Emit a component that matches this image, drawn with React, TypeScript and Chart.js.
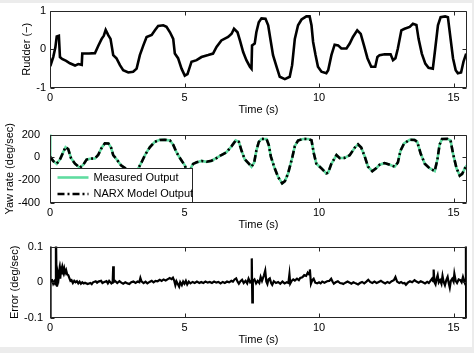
import React, { useEffect, useRef } from "react";
import { Chart, registerables } from "chart.js";

Chart.register(...registerables);

const FONT = "'Liberation Sans', Arial, Helvetica, sans-serif";

// ---------- data ----------
const X_MAX = 15.5;
const xTicks = [0, 5, 10, 15];
const xTitle = "Time (s)";

const rudderTicks = [-1, 0, 1];
const rudderTitle = "Rudder (\u2212)";
const rudderT = [0, 0.05, 0.12, 0.2, 0.25, 0.33, 0.37, 0.45, 0.6, 0.74, 0.93, 1.05, 1.18, 1.2, 1.45, 1.67, 1.8, 1.92, 2.0, 2.07, 2.17, 2.25, 2.35, 2.47, 2.6, 2.72, 2.91, 3.09, 3.22, 3.34, 3.47, 3.59, 3.78, 3.9, 4.02, 4.21, 4.33, 4.46, 4.58, 4.64, 4.76, 4.89, 5.01, 5.11, 5.26, 5.45, 5.63, 5.88, 6.06, 6.19, 6.37, 6.62, 6.75, 6.84, 6.97, 7.06, 7.18, 7.3, 7.43, 7.49, 7.51, 7.61, 7.67, 7.76, 7.86, 8.01, 8.11, 8.21, 8.29, 8.42, 8.54, 8.73, 8.91, 9.0, 9.1, 9.22, 9.35, 9.53, 9.65, 9.72, 9.78, 9.87, 9.96, 10.09, 10.27, 10.34, 10.46, 10.58, 10.71, 10.83, 11.02, 11.14, 11.26, 11.42, 11.55, 11.67, 11.8, 11.94, 12.09, 12.17, 12.25, 12.44, 12.66, 12.75, 12.84, 12.93, 13.06, 13.18, 13.37, 13.49, 13.62, 13.7, 13.82, 13.95, 14.07, 14.23, 14.32, 14.42, 14.52, 14.69, 14.79, 14.89, 14.98, 15.08, 15.16, 15.28, 15.37, 15.47];
const rudderV = [-0.25, -0.35, -0.2, 0.05, 0.33, 0.35, -0.2, -0.25, -0.3, -0.36, -0.42, -0.38, -0.4, -0.11, -0.11, -0.1, 0.1, 0.27, 0.35, 0.5, 0.36, 0.27, -0.15, -0.23, -0.41, -0.54, -0.6, -0.58, -0.5, -0.15, 0.1, 0.32, 0.37, 0.49, 0.6, 0.62, 0.58, 0.44, 0.27, -0.11, -0.23, -0.5, -0.68, -0.64, -0.32, -0.28, -0.2, -0.15, -0.11, 0.06, 0.23, 0.32, 0.4, 0.53, 0.44, 0.23, -0.07, -0.28, -0.45, -0.5, 0.1, 0.15, 0.44, 0.7, 0.8, 0.79, 0.62, 0.19, -0.15, -0.45, -0.71, -0.77, -0.71, -0.41, 0.27, 0.62, 0.77, 0.85, 0.85, 0.62, 0.19, -0.15, -0.45, -0.58, -0.62, -0.54, -0.15, 0.12, 0.1, 0.02, 0.02, 0.15, 0.32, 0.49, 0.4, 0.1, -0.23, -0.45, -0.45, -0.2, -0.15, -0.13, -0.13, -0.28, -0.23, 0.02, 0.49, 0.53, 0.58, 0.66, 0.63, 0.27, -0.11, -0.37, -0.48, -0.5, 0.02, 0.62, 0.83, 0.85, 0.83, 0.27, -0.23, -0.54, -0.62, -0.6, -0.32, -0.11];

const yawTicks = [-400, -200, 0, 200];
const yawTitle = "Yaw rate (deg/sec)";
const yawT = [0, 0.01, 0.12, 0.25, 0.37, 0.49, 0.58, 0.68, 0.78, 0.93, 1.11, 1.24, 1.36, 1.55, 1.67, 1.79, 1.92, 2.04, 2.17, 2.27, 2.35, 2.48, 2.64, 2.79, 2.91, 3.01, 3.13, 3.26, 3.4, 3.53, 3.71, 3.9, 4.08, 4.27, 4.46, 4.58, 4.7, 4.86, 5.01, 5.11, 5.18, 5.26, 5.32, 5.45, 5.63, 5.82, 6.0, 6.19, 6.37, 6.56, 6.75, 6.9, 7.02, 7.12, 7.24, 7.4, 7.49, 7.59, 7.67, 7.76, 7.86, 8.05, 8.13, 8.21, 8.33, 8.48, 8.63, 8.73, 8.85, 9.0, 9.1, 9.22, 9.41, 9.6, 9.72, 9.81, 9.9, 10.09, 10.27, 10.34, 10.46, 10.65, 10.77, 10.95, 11.14, 11.33, 11.45, 11.57, 11.7, 11.82, 11.98, 12.13, 12.25, 12.44, 12.63, 12.81, 12.93, 13.03, 13.16, 13.37, 13.55, 13.65, 13.78, 13.93, 14.11, 14.3, 14.4, 14.48, 14.57, 14.77, 14.89, 14.98, 15.11, 15.23, 15.32, 15.42, 15.5];
const yawMeasured = [260, 5, -31, -56, -18, 46, 90, 72, -5, -56, -90, -64, -18, -10, -10, 20, 85, 123, 123, 85, 20, -18, -69, -95, -120, -141, -133, -107, -44, 20, 90, 136, 154, 154, 149, 110, 46, -18, -69, -133, -150, -82, -56, -44, -31, -39, -31, -5, 20, 46, 98, 149, 136, 59, -18, -56, -82, -44, 59, 136, 162, 162, 110, 8, -82, -172, -228, -208, -141, -5, 98, 149, 162, 162, 149, 33, -56, -95, -141, -133, -56, 20, -5, -5, 20, 85, 115, 85, 8, -82, -120, -95, -64, -51, -64, -82, -44, 59, 123, 154, 154, 136, 33, -56, -95, -120, -18, 110, 162, 162, 149, 33, -95, -159, -146, -95, -69];
const yawNarx = [2, 4, -32, -55, -19, 45, 91, 71, -6, -55, -91, -63, -19, -11, -9, 21, 84, 124, 122, 86, 19, -17, -70, -94, -121, -140, -134, -106, -45, 21, 89, 137, 153, 155, 148, 111, 45, -17, -70, -132, -151, -81, -57, -43, -32, -38, -30, -6, 21, 45, 99, 148, 137, 58, -17, -57, -81, -45, 60, 135, 163, 161, 111, 7, -81, -173, -227, -209, -140, -6, 99, 148, 163, 161, 150, 32, -55, -96, -140, -134, -55, 21, -6, -4, 19, 86, 114, 86, 7, -81, -121, -94, -65, -50, -65, -81, -45, 60, 122, 155, 153, 137, 32, -55, -96, -119, -19, 111, 161, 163, 148, 34, -94, -160, -145, -96, -68];

const errTicks = [-0.1, 0, 0.1];
const errTitle = "Error (deg/sec)";
const errT = [0, 0.01, 0.03, 0.08, 0.12, 0.16, 0.2, 0.22, 0.24, 0.26, 0.29, 0.32, 0.35, 0.38, 0.41, 0.44, 0.47, 0.5, 0.53, 0.56, 0.6, 0.64, 0.68, 0.72, 0.76, 0.8, 0.85, 0.9, 0.95, 1.0, 1.05, 1.1, 1.15, 1.2, 1.25, 1.3, 1.4, 1.5, 1.55, 1.6, 1.7, 1.75, 1.8, 1.9, 1.95, 2.0, 2.1, 2.15, 2.2, 2.28, 2.33, 2.35, 2.37, 2.42, 2.5, 2.58, 2.65, 2.72, 2.8, 2.88, 2.95, 3.02, 3.1, 3.18, 3.25, 3.32, 3.36, 3.4, 3.48, 3.55, 3.62, 3.7, 3.78, 3.85, 3.92, 4.0, 4.08, 4.15, 4.22, 4.3, 4.38, 4.45, 4.52, 4.57, 4.62, 4.66, 4.7, 4.76, 4.8, 4.84, 4.9, 4.95, 5.0, 5.05, 5.1, 5.16, 5.22, 5.3, 5.38, 5.46, 5.55, 5.62, 5.7, 5.78, 5.86, 5.94, 6.02, 6.1, 6.18, 6.26, 6.34, 6.42, 6.5, 6.58, 6.66, 6.74, 6.8, 6.86, 6.92, 6.97, 7.02, 7.08, 7.14, 7.2, 7.27, 7.33, 7.38, 7.44, 7.49, 7.5, 7.52, 7.54, 7.6, 7.66, 7.72, 7.78, 7.83, 7.88, 7.95, 8.0, 8.04, 8.08, 8.12, 8.17, 8.22, 8.26, 8.32, 8.4, 8.48, 8.56, 8.64, 8.72, 8.8, 8.86, 8.9, 8.93, 8.98, 9.04, 9.1, 9.18, 9.25, 9.3, 9.38, 9.45, 9.52, 9.58, 9.63, 9.66, 9.7, 9.75, 9.8, 9.86, 9.93, 10.0, 10.06, 10.12, 10.2, 10.3, 10.38, 10.45, 10.5, 10.55, 10.62, 10.7, 10.78, 10.85, 10.9, 10.98, 11.06, 11.14, 11.2, 11.28, 11.36, 11.45, 11.52, 11.6, 11.68, 11.76, 11.83, 11.9, 11.98, 12.06, 12.14, 12.22, 12.3, 12.38, 12.46, 12.54, 12.62, 12.7, 12.78, 12.84, 12.9, 12.98, 13.05, 13.12, 13.18, 13.23, 13.3, 13.38, 13.46, 13.55, 13.62, 13.7, 13.78, 13.86, 13.94, 14.02, 14.08, 14.14, 14.2, 14.24, 14.26, 14.29, 14.33, 14.37, 14.41, 14.45, 14.5, 14.55, 14.59, 14.63, 14.68, 14.73, 14.78, 14.82, 14.86, 14.9, 14.95, 15.0, 15.03, 15.08, 15.13, 15.19, 15.25, 15.3, 15.35, 15.4, 15.44, 15.46, 15.47];
const errV = [-0.15, 0.15, 0.004, 0.006, -0.004, 0.002, -0.006, 0.15, 0.02, -0.012, 0.025, 0.012, 0.033, 0.01, 0.036, 0.022, 0.04, 0.028, 0.038, 0.026, 0.034, 0.022, 0.02, 0.012, 0.004, 0.006, -0.002, 0.004, 0.0, 0.003, -0.003, 0.002, -0.004, 0.0, -0.003, -0.001, -0.005, -0.002, -0.005, 0.0, 0.003, -0.001, 0.002, 0.004, -0.002, 0.0, 0.003, -0.003, 0.004, -0.003, 0.001, 0.045, 0.001, 0.004, -0.002, 0.003, -0.001, -0.004, 0.0, -0.003, -0.005, 0.0, 0.002, -0.002, 0.002, 0.0, 0.012, 0.003, -0.002, 0.002, -0.003, 0.001, 0.004, 0.0, 0.004, 0.003, 0.007, 0.004, 0.008, 0.005, 0.009, 0.012, 0.009, 0.013, 0.004, -0.008, 0.003, -0.006, -0.012, 0.0, -0.008, 0.002, -0.004, 0.004, -0.006, 0.002, -0.003, 0.001, -0.002, 0.002, -0.002, 0.001, -0.002, 0.002, -0.001, 0.001, -0.002, 0.002, -0.001, 0.001, -0.003, 0.001, -0.002, 0.002, 0.0, 0.004, 0.002, 0.008, 0.011, 0.002, -0.004, 0.003, 0.007, -0.002, 0.004, -0.003, 0.01, 0.0, 0.004, 0.067, -0.056, 0.004, 0.008, -0.003, 0.004, -0.002, 0.015, 0.004, 0.019, 0.033, 0.002, -0.005, 0.008, 0.011, -0.002, -0.007, 0.003, -0.002, 0.001, -0.004, 0.002, -0.003, 0.0, -0.002, 0.023, -0.003, 0.004, 0.008, 0.005, 0.01, 0.006, 0.012, 0.014, 0.02, 0.018, 0.027, 0.022, 0.036, -0.004, 0.006, 0.01, -0.001, -0.003, 0.0, -0.003, 0.002, -0.001, 0.003, 0.004, 0.01, 0.002, -0.004, 0.0, 0.003, -0.002, -0.003, -0.005, -0.001, 0.002, -0.001, -0.004, 0.0, -0.003, -0.006, -0.002, 0.001, -0.003, 0.002, 0.007, 0.001, -0.002, 0.002, -0.002, 0.001, 0.004, 0.0, -0.003, 0.001, -0.002, 0.003, 0.006, 0.015, 0.002, -0.002, 0.001, -0.003, -0.002, -0.007, -0.001, 0.003, 0.0, 0.006, 0.002, -0.001, 0.003, 0.0, -0.003, 0.001, -0.002, 0.004, 0.01, 0.003, 0.036, 0.0, -0.006, 0.01, 0.02, 0.0, 0.006, -0.004, 0.018, 0.002, -0.008, 0.006, 0.015, -0.002, -0.015, 0.004, 0.01, 0.002, 0.024, 0.004, -0.002, 0.008, 0.006, 0.0, 0.015, 0.002, -0.006, 0.15, -0.15];

const measuredLabel = "Measured Output";
const narxLabel = "NARX Model Output";

// ---------- helpers ----------
const pts = (t: number[], v: number[]) => t.map((x, i) => ({ x, y: v[i] }));

const boxPlugin = {
  id: "matlabBox",
  afterDatasetsDraw(chart: any) {
    const { ctx, chartArea: a, scales } = chart;
    const L = 4;
    ctx.save();
    ctx.strokeStyle = "#262626";
    ctx.lineWidth = 1;
    ctx.beginPath();
    const l = Math.round(a.left) + 0.5;
    const r = Math.round(a.right) - 0.5;
    const t = Math.round(a.top) + 0.5;
    const b = Math.round(a.bottom) - 0.5;
    ctx.rect(l, t, r - l, b - t);
    scales.x.ticks.forEach((tk: any) => {
      const px = Math.round(scales.x.getPixelForValue(tk.value)) + 0.5;
      ctx.moveTo(px, b);
      ctx.lineTo(px, b - L);
      ctx.moveTo(px, t);
      ctx.lineTo(px, t + L);
    });
    scales.y.ticks.forEach((tk: any) => {
      const py = Math.round(scales.y.getPixelForValue(tk.value)) + 0.5;
      ctx.moveTo(l, py);
      ctx.lineTo(l + L, py);
      ctx.moveTo(r, py);
      ctx.lineTo(r - L, py);
    });
    ctx.stroke();
    ctx.restore();
  },
};

const innerLegendPlugin = {
  id: "innerLegend",
  afterDraw(chart: any) {
    const { ctx, chartArea: a } = chart;
    const ds = [...chart.data.datasets].sort((p: any, q: any) => (p.legendIndex ?? 0) - (q.legendIndex ?? 0));
    const w = 142;
    const h = 34;
    const x0 = Math.round(a.left) + 0.5;
    const y1 = Math.round(a.bottom) - 0.5;
    const y0 = y1 - h;
    ctx.save();
    ctx.fillStyle = "#ffffff";
    ctx.fillRect(x0, y0, w, h);
    ctx.strokeStyle = "#262626";
    ctx.lineWidth = 1;
    ctx.strokeRect(x0, y0, w, h);
    ctx.font = `11px ${FONT}`;
    ctx.textBaseline = "middle";
    ctx.textAlign = "left";
    ds.forEach((d: any, i: number) => {
      const y = y0 + 9 + i * 16.5;
      ctx.beginPath();
      ctx.setLineDash(d.borderDash || []);
      ctx.strokeStyle = d.borderColor;
      ctx.lineWidth = d.borderWidth;
      ctx.moveTo(x0 + 7, y);
      ctx.lineTo(x0 + 38, y);
      ctx.stroke();
      ctx.setLineDash([]);
      ctx.fillStyle = "#000";
      ctx.fillText(d.label, x0 + 43, y);
    });
    ctx.restore();
  },
};

type PanelOpts = {
  datasets: any[];
  yMin: number;
  yMax: number;
  yTicks: number[];
  yTitle: string;
  yTickPad: number;
  yTitlePad: number;
  padTop: number;
  xHeight: number;
  xTitlePad: number;
  plugins: any[];
};

function makeConfig(o: PanelOpts): any {
  const font = { family: FONT, size: 11 };
  return {
    type: "line",
    data: { datasets: o.datasets },
    plugins: o.plugins,
    options: {
      animation: false,
      responsive: false,
      maintainAspectRatio: false,
      devicePixelRatio: 1,
      events: [],
      parsing: false,
      layout: { padding: { top: o.padTop, right: 7, bottom: 0, left: 0 } },
      elements: { point: { radius: 0 }, line: { tension: 0 } },
      plugins: { legend: { display: false }, tooltip: { enabled: false } },
      scales: {
        x: {
          type: "linear",
          min: 0,
          max: X_MAX,
          afterBuildTicks: (s: any) => {
            s.ticks = xTicks.map((value) => ({ value }));
          },
          afterFit: (s: any) => {
            s.height = o.xHeight;
          },
          ticks: {
            includeBounds: false,
            autoSkip: false,
            maxRotation: 0,
            color: "#000",
            font,
            padding: 3,
            callback: (v: any) => String(v),
          },
          grid: { display: false, drawTicks: false, tickLength: 0 },
          border: { display: false },
          title: {
            display: true,
            text: xTitle,
            color: "#000",
            font,
            padding: { top: 0, bottom: o.xTitlePad },
          },
        },
        y: {
          type: "linear",
          min: o.yMin,
          max: o.yMax,
          afterBuildTicks: (s: any) => {
            s.ticks = o.yTicks.map((value) => ({ value }));
          },
          afterFit: (s: any) => {
            s.width = 50;
          },
          ticks: {
            includeBounds: false,
            autoSkip: false,
            color: "#000",
            font,
            padding: o.yTickPad,
            callback: (v: any) => String(v),
          },
          grid: { display: false, drawTicks: false, tickLength: 0 },
          border: { display: false },
          title: {
            display: true,
            text: o.yTitle,
            color: "#000",
            font,
            padding: { top: o.yTitlePad, bottom: 0 },
          },
        },
      },
    },
  };
}

export default function App() {
  const c1 = useRef<HTMLCanvasElement>(null);
  const c2 = useRef<HTMLCanvasElement>(null);
  const c3 = useRef<HTMLCanvasElement>(null);

  useEffect(() => {
    const charts: Chart[] = [];
    charts.push(
      new Chart(
        c1.current!,
        makeConfig({
          datasets: [
            { label: "Rudder", data: pts(rudderT, rudderV), borderColor: "#000", borderWidth: 2.6, fill: false },
          ],
          yMin: -1,
          yMax: 1,
          yTicks: rudderTicks,
          yTitle: rudderTitle,
          yTickPad: 4,
          yTitlePad: 20,
          padTop: 10,
          xHeight: 30,
          xTitlePad: 1.4,
          plugins: [boxPlugin],
        })
      )
    );
    charts.push(
      new Chart(
        c2.current!,
        makeConfig({
          datasets: [
            {
              label: narxLabel,
              data: pts(yawT, yawNarx),
              borderColor: "#000",
              borderWidth: 2.6,
              borderDash: [7, 3, 2, 3],
              fill: false,
              order: 0,
              legendIndex: 1,
            },
            {
              label: measuredLabel,
              data: pts(yawT, yawMeasured),
              borderColor: "#5fdca0",
              borderWidth: 2.6,
              fill: false,
              order: 1,
              legendIndex: 0,
            },
          ],
          yMin: -400,
          yMax: 200,
          yTicks: yawTicks,
          yTitle: yawTitle,
          yTickPad: 10,
          yTitlePad: 3.4,
          padTop: 7,
          xHeight: 30,
          xTitlePad: 1.4,
          plugins: [boxPlugin, innerLegendPlugin],
        })
      )
    );
    charts.push(
      new Chart(
        c3.current!,
        makeConfig({
          datasets: [
            { label: "Error", data: pts(errT, errV), borderColor: "#000", borderWidth: 2.2, fill: false },
          ],
          yMin: -0.1,
          yMax: 0.1,
          yTicks: errTicks,
          yTitle: errTitle,
          yTickPad: 7,
          yTitlePad: 8.4,
          padTop: 7,
          xHeight: 35,
          xTitlePad: 6.4,
          plugins: [boxPlugin],
        })
      )
    );
    return () => charts.forEach((c) => c.destroy());
  }, []);

  const cv = (top: number, height: number): React.CSSProperties => ({
    position: "absolute",
    left: 0,
    top,
    width: 474,
    height,
  });

  return (
    <div style={{ position: "fixed", left: 0, top: 0, width: 474, height: 353, background: "#ececec", overflow: "hidden" }}>
      <div style={{ position: "absolute", left: 0, top: 3, width: 472, height: 344, background: "#ffffff" }} />
      <canvas ref={c1} width={474} height={118} style={cv(0, 118)} />
      <canvas ref={c2} width={474} height={115} style={cv(118, 115)} />
      <canvas ref={c3} width={474} height={120} style={cv(233, 120)} />
    </div>
  );
}
